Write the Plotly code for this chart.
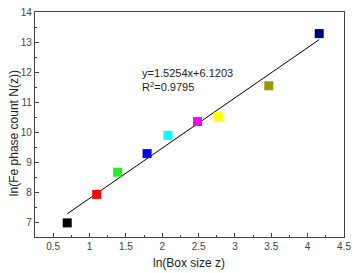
import numpy as np
import plotly.graph_objects as go

box_sizes = [2, 3, 4, 6, 8, 12, 16, 32, 64]
ln_z = [float(np.log(b)) for b in box_sizes]
ln_n = [6.97, 7.92, 8.66, 9.28, 9.89, 10.35, 10.51, 11.54, 13.28]
colors = ["#000000", "#ff0000", "#22ee22", "#0000ff", "#00ffff",
          "#ff00ff", "#ffff00", "#999900", "#000080"]
eq_text = "y=1.5254x+6.1203<br>R<sup>2</sup>=0.9795"
x_title = "ln(Box size z)"
y_title = "ln(Fe phase count N(z))"

slope, intercept = np.polyfit(ln_z, ln_n, 1)
fx = [min(ln_z), max(ln_z)]
fy = [slope * v + intercept for v in fx]

W, H = 357, 273
ML, MR, MT, MB = 35, 8, 6, 36
pw, ph = W - ML - MR, H - MT - MB


def px_to_paper(px, py):
    return (px - ML) / pw, (H - py - MB) / ph


fig = go.Figure()
fig.add_trace(go.Scatter(x=fx, y=fy, mode="lines",
                         line=dict(color="black", width=1), showlegend=False))
fig.add_trace(go.Scatter(x=ln_z, y=ln_n, mode="markers",
                         marker=dict(symbol="square", size=9, color=colors,
                                     line=dict(width=0)),
                         showlegend=False))
fig.add_annotation(x=1.70, y=11.75, xref="x", yref="y", text=eq_text,
                   showarrow=False, xanchor="left", yanchor="middle", align="left",
                   font=dict(family="Arial", size=11, color="#222"))
xt = px_to_paper(191, 264)
fig.add_annotation(x=xt[0], y=xt[1], xref="paper", yref="paper", text=x_title,
                   showarrow=False, xanchor="center", yanchor="middle",
                   font=dict(family="Arial", size=12, color="#222"))
yt = px_to_paper(13, 130)
fig.add_annotation(x=yt[0], y=yt[1], xref="paper", yref="paper", text=y_title,
                   showarrow=False, textangle=-90, xanchor="center", yanchor="middle",
                   font=dict(family="Arial", size=12, color="#222"))

axis_common = dict(showgrid=False, zeroline=False, showline=True, mirror=True,
                   linecolor="#444", linewidth=1.2, ticks="inside", ticklen=4,
                   tickcolor="#444", ticklabeloverflow="allow",
                   tickfont=dict(family="Arial", size=10, color="#444"))
fig.update_xaxes(range=[0.25, 4.5], dtick=0.5, tick0=0.5,
                 minor=dict(ticks="inside", ticklen=2, dtick=0.25, tickcolor="#444"),
                 **axis_common)
fig.update_yaxes(range=[6.5, 14], dtick=1,
                 minor=dict(ticks="inside", ticklen=2, dtick=0.5, tickcolor="#444"),
                 **axis_common)
fig.update_layout(width=W, height=H, margin=dict(l=ML, r=MR, t=MT, b=MB),
                  plot_bgcolor="white", paper_bgcolor="white")
fig.write_html("out.html", config={"displayModeBar": False},
               post_script="document.body.style.margin='0';")
